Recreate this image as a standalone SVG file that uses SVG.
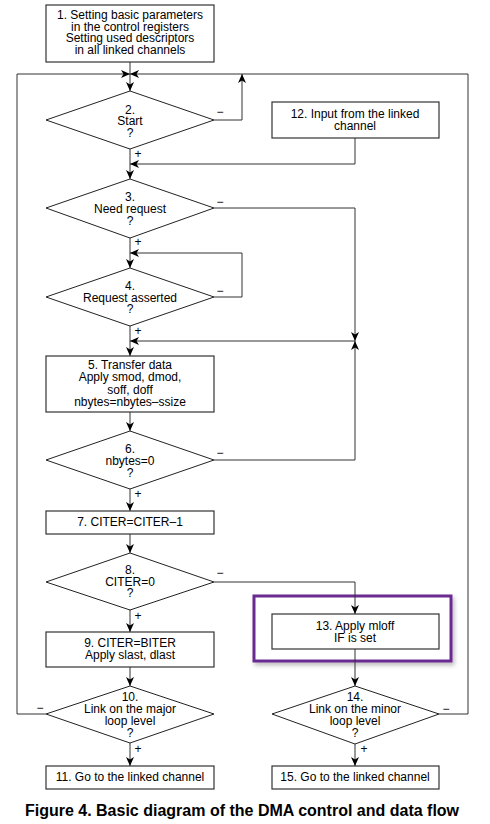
<svg xmlns="http://www.w3.org/2000/svg" width="490" height="824" viewBox="0 0 490 824">
<style>
.box{fill:#fff;stroke:#333;stroke-width:1.2}
.dia{fill:#fff;stroke:#222;stroke-width:1}
.t{font-family:"Liberation Sans",Arial,sans-serif;font-size:12px;fill:#000;text-anchor:middle}
.s{font-family:"Liberation Sans",Arial,sans-serif;font-size:12px;fill:#000;text-anchor:middle}
.c{fill:none;stroke:#333;stroke-width:1}
.cap{font-family:"Liberation Sans",Arial,sans-serif;font-size:16px;font-weight:bold;fill:#000;text-anchor:middle}
</style>
<defs>
<marker id="ah" markerUnits="userSpaceOnUse" markerWidth="10" markerHeight="8" refX="9" refY="4" orient="auto">
<path d="M0,0 L9,4 L0,8 L2.5,4 z" fill="#000"/>
</marker>
<filter id="sh" x="-10%" y="-10%" width="130%" height="140%">
<feDropShadow dx="2" dy="3" stdDeviation="2" flood-color="#000" flood-opacity="0.25"/>
</filter>
</defs>
<rect width="490" height="824" fill="#fff"/>
<g id="highlight">
<rect x="254" y="596" width="197" height="65" fill="#fff" stroke="#6a2c91" stroke-width="3" filter="url(#sh)"/>
</g>
<g id="connectors">
<path class="c" d="M130,62 L130,91" marker-end="url(#ah)"/>
<path class="c" d="M46,714 L17,714 L17,74 L130,74" marker-end="url(#ah)"/>
<path class="c" d="M439,714 L468,714 L468,74 L130,74" marker-end="url(#ah)"/>
<path class="c" d="M214,120 L242,120 L242,74" marker-end="url(#ah)"/>
<path class="c" d="M130,149 L130,179" marker-end="url(#ah)"/>
<path class="c" d="M355,138 L355,164 L130,164" marker-end="url(#ah)"/>
<path class="c" d="M214,208 L355,208 L355,341" marker-end="url(#ah)"/>
<path class="c" d="M130,238 L130,268" marker-end="url(#ah)"/>
<path class="c" d="M214,297 L242,297 L242,253 L130,253" marker-end="url(#ah)"/>
<path class="c" d="M130,326 L130,356" marker-end="url(#ah)"/>
<path class="c" d="M355,341 L130,341" marker-end="url(#ah)"/>
<path class="c" d="M214,460 L355,460 L355,341" marker-end="url(#ah)"/>
<path class="c" d="M130,412 L130,431" marker-end="url(#ah)"/>
<path class="c" d="M130,489 L130,511" marker-end="url(#ah)"/>
<path class="c" d="M130,534 L130,553" marker-end="url(#ah)"/>
<path class="c" d="M214,582 L355,582 L355,614" marker-end="url(#ah)"/>
<path class="c" d="M130,610 L130,632" marker-end="url(#ah)"/>
<path class="c" d="M130,667 L130,686" marker-end="url(#ah)"/>
<path class="c" d="M130,743 L130,766" marker-end="url(#ah)"/>
<path class="c" d="M355,649 L355,686" marker-end="url(#ah)"/>
<path class="c" d="M355,744 L355,766" marker-end="url(#ah)"/>
</g>
<g id="labels">
<text class="s" x="220" y="116">−</text>
<text class="s" x="138" y="158">+</text>
<text class="s" x="220" y="206">−</text>
<text class="s" x="138" y="246">+</text>
<text class="s" x="220" y="295">−</text>
<text class="s" x="138" y="335">+</text>
<text class="s" x="220" y="457">−</text>
<text class="s" x="138" y="498">+</text>
<text class="s" x="220" y="577">−</text>
<text class="s" x="138" y="620">+</text>
<text class="s" x="40" y="712">−</text>
<text class="s" x="138" y="753">+</text>
<text class="s" x="446" y="713">−</text>
<text class="s" x="364" y="753">+</text>
</g>
<g id="n1">
<rect class="box" x="46" y="5" width="168" height="57"/>
<text class="t" x="130" y="19">1. Setting basic parameters</text>
<text class="t" x="130" y="30.7">in the control registers</text>
<text class="t" x="130" y="42.3">Setting used descriptors</text>
<text class="t" x="130" y="54">in all linked channels</text>
</g>
<g id="n2">
<polygon class="dia" points="130,91 214,120 130,149 46,120"/>
<text class="t" x="130" y="113.5">2.</text>
<text class="t" x="130" y="125">Start</text>
<text class="t" x="130" y="136.5">?</text>
</g>
<g id="n12">
<rect class="box" x="272" y="102" width="167" height="36"/>
<text class="t" x="355" y="118">12. Input from the linked</text>
<text class="t" x="355" y="130">channel</text>
</g>
<g id="n3">
<polygon class="dia" points="130,179 214,208 130,238 46,208"/>
<text class="t" x="130" y="201">3.</text>
<text class="t" x="130" y="213">Need request</text>
<text class="t" x="130" y="225">?</text>
</g>
<g id="n4">
<polygon class="dia" points="130,268 214,297 130,326 46,297"/>
<text class="t" x="130" y="290">4.</text>
<text class="t" x="130" y="301.5">Request asserted</text>
<text class="t" x="130" y="313">?</text>
</g>
<g id="n5">
<rect class="box" x="46" y="356" width="168" height="56"/>
<text class="t" x="130" y="369">5. Transfer data</text>
<text class="t" x="130" y="381">Apply smod, dmod,</text>
<text class="t" x="130" y="393.5">soff, doff</text>
<text class="t" x="130" y="405.5">nbytes=nbytes–ssize</text>
</g>
<g id="n6">
<polygon class="dia" points="130,431 214,460 130,489 46,460"/>
<text class="t" x="130" y="453">6.</text>
<text class="t" x="130" y="465">nbytes=0</text>
<text class="t" x="130" y="477">?</text>
</g>
<g id="n7">
<rect class="box" x="46" y="511" width="168" height="23"/>
<text class="t" x="130" y="526">7. CITER=CITER–1</text>
</g>
<g id="n8">
<polygon class="dia" points="130,553 214,582 130,610 46,582"/>
<text class="t" x="130" y="574">8.</text>
<text class="t" x="130" y="585.5">CITER=0</text>
<text class="t" x="130" y="597">?</text>
</g>
<g id="n9">
<rect class="box" x="46" y="632" width="168" height="35"/>
<text class="t" x="130" y="647">9. CITER=BITER</text>
<text class="t" x="130" y="659">Apply slast, dlast</text>
</g>
<g id="n10">
<polygon class="dia" points="130,686 214,714 130,743 46,714"/>
<text class="t" x="130" y="700.5">10.</text>
<text class="t" x="130" y="712.5">Link on the major</text>
<text class="t" x="130" y="724.5">loop level</text>
<text class="t" x="130" y="736.5">?</text>
</g>
<g id="n11">
<rect class="box" x="46" y="766" width="168" height="23"/>
<text class="t" x="130" y="781">11. Go to the linked channel</text>
</g>
<g id="n13">
<rect class="box" x="272" y="614" width="167" height="35"/>
<text class="t" x="355" y="630">13. Apply mloff</text>
<text class="t" x="355" y="642">IF is set</text>
</g>
<g id="n14">
<polygon class="dia" points="355,686 439,714 355,744 272,714"/>
<text class="t" x="355" y="700.5">14.</text>
<text class="t" x="355" y="712.5">Link on the minor</text>
<text class="t" x="355" y="724.5">loop level</text>
<text class="t" x="355" y="736.5">?</text>
</g>
<g id="n15">
<rect class="box" x="272" y="766" width="167" height="23"/>
<text class="t" x="355" y="781">15. Go to the linked channel</text>
</g>
<text class="cap" x="242" y="816">Figure 4. Basic diagram of the DMA control and data flow</text>
</svg>
